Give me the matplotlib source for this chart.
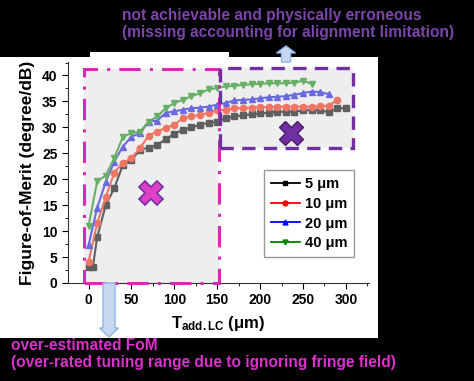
import matplotlib
matplotlib.use("Agg")
import matplotlib.pyplot as plt
from matplotlib.patches import Rectangle, FancyArrow
from matplotlib.lines import Line2D

# ---------------- data ----------------
x_5 = [0, 5, 10, 20, 30, 40, 50, 60, 70, 80, 90, 100, 110, 120, 130, 140, 150, 160,
       170, 180, 190, 200, 210, 220, 230, 240, 250, 260, 270, 280, 290, 300]
y_5 = [3.0, 3.1, 8.8, 15.0, 18.3, 22.8, 23.7, 25.7, 26.1, 26.6, 27.7, 28.8, 29.5, 30.0,
       30.5, 30.9, 31.1, 31.8, 32.1, 32.3, 32.5, 32.7, 32.8, 33.0, 33.0, 33.0, 33.3, 33.3,
       33.3, 32.9, 33.7, 33.7]

x_10 = [0, 10, 20, 30, 40, 50, 60, 70, 80, 90, 100, 110, 120, 130, 140, 150, 160, 170,
        180, 190, 200, 210, 220, 230, 240, 250, 260, 270, 280, 290]
y_10 = [4.1, 11.5, 16.5, 21.3, 23.1, 24.1, 26.0, 28.4, 29.2, 29.9, 30.5, 31.8, 32.1, 32.4,
        32.8, 33.3, 33.4, 33.7, 33.7, 33.8, 33.9, 33.9, 34.0, 34.0, 34.0, 34.0, 34.0, 34.1,
        34.2, 35.3]

x_20 = [0, 10, 20, 30, 40, 50, 60, 70, 80, 90, 100, 110, 120, 130, 140, 150, 160, 170,
        180, 190, 200, 210, 220, 230, 240, 250, 260, 270, 280]
y_20 = [7.3, 14.5, 19.5, 23.4, 26.3, 28.2, 28.9, 31.1, 31.3, 32.8, 33.1, 33.4, 33.7, 33.8,
        34.0, 34.4, 34.7, 35.2, 35.3, 35.4, 35.6, 35.8, 35.9, 36.0, 36.3, 36.6, 36.9, 36.8,
        36.4]

x_40 = [0, 10, 20, 30, 40, 50, 60, 70, 80, 90, 100, 110, 120, 130, 140, 150, 160, 170,
        180, 190, 200, 210, 220, 230, 240, 250, 260]
y_40 = [11.0, 19.6, 20.7, 24.1, 28.2, 28.9, 29.2, 31.1, 32.1, 33.7, 34.7, 35.3, 36.0, 36.6,
        37.3, 37.6, 37.9, 38.0, 38.2, 38.3, 38.4, 38.5, 38.5, 38.5, 38.6, 39.0, 38.4]

series_labels = ["5 \u03bcm", "10 \u03bcm", "20 \u03bcm", "40 \u03bcm"]
x_ticks = [0, 50, 100, 150, 200, 250, 300]
y_ticks = [0, 5, 10, 15, 20, 25, 30, 35, 40]

top_note = "not achievable and physically erroneous\n(missing accounting for alignment limitation)"
bottom_note = "over-estimated FoM\n(over-rated tuning range due to ignoring fringe field)"

# ---------------- style ----------------
plt.rcParams['font.family'] = ['Liberation Sans', 'DejaVu Sans']
plt.rcParams['font.weight'] = 'bold'
plt.rcParams['mathtext.fontset'] = 'custom'
plt.rcParams['mathtext.rm'] = 'Liberation Sans:bold'
plt.rcParams['mathtext.it'] = 'Liberation Sans:bold'
plt.rcParams['mathtext.bf'] = 'Liberation Sans:bold'

W, H = 474, 381
fig = plt.figure(figsize=(W / 100, H / 100), dpi=100, facecolor='black')

# overlay in pixel coordinates
bg = fig.add_axes([0, 0, 1, 1], zorder=0)
bg.set_xlim(0, W)
bg.set_ylim(H, 0)
bg.axis('off')
bg.set_facecolor('black')
bg.add_patch(Rectangle((0, 57), 378, 281, facecolor='white', edgecolor='none'))
bg.add_patch(Rectangle((90, 52), 139, 6, facecolor='white', edgecolor='none'))

ax = fig.add_axes([68 / W, 1 - 283 / H, (369 - 68) / W, (283 - 62) / H], zorder=1)
ax.set_facecolor('none')
ax.set_xlim(-24, 327)
ax.set_ylim(0, 42.6)

magenta = '#d62ab8'
purple = '#7030a0'

# shaded regions
ax.add_patch(Rectangle((-5, 0), 157, 41.3, facecolor='#eeeeee', edgecolor='none', zorder=0))
ax.add_patch(Rectangle((152, 26.0), 156, 15.4, facecolor='#eeeeee', edgecolor='none', zorder=0))

line_cols = ['#5f5f5f', '#f07565', '#6a6ae0', '#68b068']
leg_cols = ['black', 'red', 'blue', 'green']
markers = ['s', 'o', '^', 'v']
xs = [x_5, x_10, x_20, x_40]
ys = [y_5, y_10, y_20, y_40]
for xv, yv, c, m in zip(xs, ys, line_cols, markers):
    ax.plot(xv, yv, color=c, marker=m, markersize=4.5, lw=1.5, zorder=3)

# boxes
ax.add_patch(Rectangle((-5, 0), 157, 41.3, facecolor='none', edgecolor=magenta,
                       lw=2.2, linestyle=(0, (7, 3, 1, 3)), zorder=4, clip_on=False))
ax.add_patch(Rectangle((153, 26.0), 155, 15.4, facecolor='none', edgecolor=purple,
                       lw=2.4, linestyle=(0, (4, 2.5)), zorder=4, clip_on=False))

# X markers
ax.plot([73], [17.3], marker='X', markersize=17, color='#e040c8', markeredgecolor=purple,
        markeredgewidth=1.2, zorder=5)
ax.plot([236.5], [28.9], marker='X', markersize=17, color=purple, markeredgecolor='#4a1a70',
        markeredgewidth=1.0, zorder=5)

# axes styling
for s in ['top', 'right']:
    ax.spines[s].set_visible(False)
for s in ['left', 'bottom']:
    ax.spines[s].set_color('#333333')
ax.set_xticks(x_ticks)
ax.set_yticks(y_ticks)
ax.set_xticks([v + 25 for v in x_ticks], minor=True)
ax.set_yticks([v + 2.5 for v in y_ticks], minor=True)
ax.tick_params(which='major', direction='out', length=4, labelsize=10)
ax.tick_params(which='minor', direction='out', length=2)
for lab in ax.get_xticklabels() + ax.get_yticklabels():
    lab.set_fontweight('bold')

ax.set_xlabel("T$_{\\rm add.LC}$ (\u03bcm)", fontsize=12, fontweight='bold', labelpad=5)
ax.set_ylabel("Figure-of-Merit (degree/dB)", fontsize=12.5, fontweight='bold', labelpad=5)

handles = [Line2D([], [], color=c, marker=m, markersize=3.5, lw=1.3)
           for c, m in zip(leg_cols, markers)]
leg = ax.legend(handles, series_labels, loc='lower left', bbox_to_anchor=(0.651, 0.118),
                borderaxespad=0, fancybox=False, edgecolor='#999999', framealpha=1,
                prop={'weight': 'bold', 'size': 10.5}, handlelength=2.0, handletextpad=0.35,
                labelspacing=0.4, borderpad=0.45)
leg.set_zorder(6)

# arrows
arr_face = '#c6d9f1'
arr_edge = '#8eb4e3'
bg.add_patch(FancyArrow(286, 62, 0, -16, width=9, head_width=19, head_length=7,
                        length_includes_head=True, facecolor=arr_face, edgecolor=arr_edge, lw=1))
fig_over = fig.add_axes([0, 0, 1, 1], zorder=10)
fig_over.set_xlim(0, W)
fig_over.set_ylim(H, 0)
fig_over.axis('off')
fig_over.patch.set_alpha(0)
fig_over.add_patch(FancyArrow(109, 283, 0, 54, width=12, head_width=19, head_length=9,
                              length_includes_head=True, facecolor=arr_face, edgecolor=arr_edge, lw=1))

# notes
fig_over.text(122, 24, top_note, color='#7b45a8', fontsize=11.2, fontweight='bold',
              ha='left', va='center', linespacing=1.2)
fig_over.text(11, 354, bottom_note, color='#dd2fcc', fontsize=11.2, fontweight='bold',
              ha='left', va='center', linespacing=1.2)

fig.savefig('out.png', dpi=100, facecolor='black')
